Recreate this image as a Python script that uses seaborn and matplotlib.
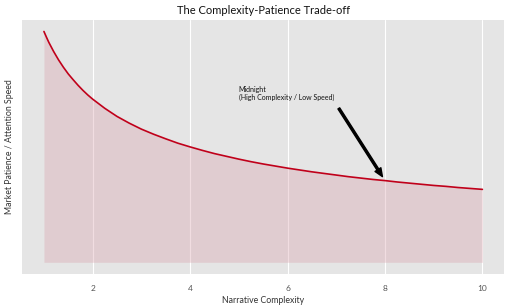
import matplotlib
matplotlib.use("Agg")
import matplotlib.pyplot as plt
import seaborn as sns
import pandas as pd

complexity = [1.0, 1.05, 1.1, 1.2, 1.3, 1.4, 1.5, 1.6, 1.7, 1.8, 1.9, 2.0,
              2.25, 2.5, 2.75, 3.0, 3.25, 3.5, 3.75,
              4.0, 4.25, 4.5, 4.75, 5.0, 5.25, 5.5, 5.75, 6.0, 6.25, 6.5, 6.75,
              7.0, 7.25, 7.5, 7.75, 8.0, 8.25, 8.5, 8.75, 9.0, 9.25, 9.5, 9.75, 10.0]
patience = [1.000, 0.976, 0.953, 0.913, 0.877, 0.845, 0.816, 0.791, 0.767, 0.745,
            0.725, 0.707, 0.667, 0.632, 0.603, 0.577, 0.555,
            0.535, 0.516, 0.500, 0.485, 0.471, 0.459, 0.447, 0.436, 0.426, 0.417,
            0.408, 0.400, 0.392, 0.385, 0.378, 0.371, 0.365, 0.359, 0.354, 0.348,
            0.343, 0.338, 0.333, 0.329, 0.324, 0.320, 0.316]
x_ticks = [2, 4, 6, 8, 10]
annot_x, annot_y = 8.0, 0.354
annot_text = "Midnight\n(High Complexity / Low Speed)"

df = pd.DataFrame({"x": complexity, "y": patience})

sns.set_theme(style="darkgrid", rc={"axes.facecolor": "#e5e5e5",
                                    "grid.color": "white",
                                    "grid.linewidth": 0.8})
plt.rcParams["font.family"] = ["Lato", "DejaVu Sans"]

fig, ax = plt.subplots(figsize=(5.12, 3.07), dpi=100)
fig.subplots_adjust(left=0.043, right=0.985, top=0.935, bottom=0.108)

ax.fill_between(df["x"], 0, df["y"], color="#d9a0aa", alpha=0.35, linewidth=0)
sns.lineplot(data=df, x="x", y="y", ax=ax, color="#c0001a", linewidth=1.2)

ax.set_xticks(x_ticks)
ax.set_yticks([])
ax.tick_params(axis="x", labelsize=6, colors="#555555", pad=2)
ax.set_xlabel("Narrative Complexity", fontsize=6.3, color="#333333", labelpad=3)
ax.set_ylabel("Market Patience / Attention Speed", fontsize=6.3, color="#333333", labelpad=6)
ax.set_title("The Complexity-Patience Trade-off", fontsize=8, color="#111111", pad=4)
ax.grid(axis="y", visible=False)
for s in ax.spines.values():
    s.set_visible(False)

ax.annotate(annot_text, xy=(annot_x, annot_y), xytext=(5.0, 0.765),
            fontsize=5, va="top", ha="left", color="#111111",
            arrowprops=dict(facecolor="black", edgecolor="black", shrink=0.05,
                            width=1.5, headwidth=5, headlength=6))

fig.savefig("out.png", dpi=100)
